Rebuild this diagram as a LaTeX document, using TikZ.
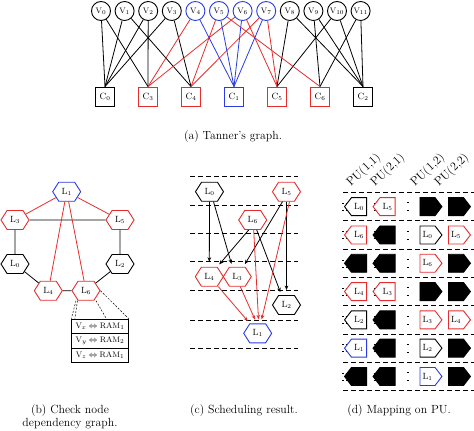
\documentclass[tikz,border=0pt]{standalone}
\usetikzlibrary{shapes.symbols,arrows.meta}
\definecolor{myred}{RGB}{230,45,45}
\definecolor{myblue}{RGB}{40,60,225}
\tikzset{
 vnode/.style={circle,draw,line width=0.9pt,minimum size=19pt,inner sep=0pt,fill=white,font=\fontsize{8}{9}\selectfont},
 cnode/.style={rectangle,draw,line width=0.9pt,minimum size=19pt,inner sep=0pt,fill=white,font=\fontsize{9}{10}\selectfont},
 hexa/.style={signal,signal to=west and east,signal pointer angle=115,draw,line width=0.9pt,minimum width=28pt,minimum height=19pt,inner sep=0pt,fill=white,font=\fontsize{9}{10}\selectfont},
 pentbase/.style={signal,signal pointer angle=105,draw,line width=0.9pt,minimum width=22pt,minimum height=18pt,inner sep=0pt,font=\fontsize{9}{10}\selectfont},
 pl/.style={pentbase,signal to=west,fill=white},
 pr/.style={pentbase,signal to=east,fill=white},
 pfl/.style={pentbase,signal to=west,fill=black},
 pfr/.style={pentbase,signal to=east,fill=black},
 tedge/.style={line width=0.8pt},
 sarrow/.style={line width=0.8pt,-{Stealth[length=4.5pt,width=3.6pt]}},
 rowline/.style={dash pattern=on 5pt off 3pt,line width=1pt},
 tinydash/.style={dash pattern=on 2pt off 1.5pt,line width=0.5pt},
 captext/.style={font=\fontsize{11.8}{13}\selectfont,align=center,inner sep=0pt},
 boxrow/.style={draw,line width=0.7pt,minimum width=56.6pt,minimum height=14.56pt,inner sep=0pt,fill=white,font=\fontsize{8.5}{9}\selectfont},
 pulab/.style={rotate=43,anchor=south west,inner sep=0pt,font=\fontsize{12}{13}\selectfont},
}
\begin{document}
\begin{tikzpicture}[x=1pt,y=-1pt]
\useasboundingbox (0,0) rectangle (474,431);

% ---------------- (a) Tanner graph ----------------
\foreach \i/\col in {0/black,1/black,2/black,3/black,4/myblue,5/myblue,6/myblue,7/myblue,8/black,9/black,10/black,11/black}{
  \node[vnode,draw=\col] (V\i) at ({101+23.6*\i},11) {$\mathrm{V}_{\i}$};
}
\node[cnode] (C0) at (105,96.5) {$\mathrm{C}_0$};
\node[cnode,draw=myred] (C3) at (148,96.5) {$\mathrm{C}_3$};
\node[cnode,draw=myred] (C4) at (191,96.5) {$\mathrm{C}_4$};
\node[cnode,draw=myblue] (C1) at (234,96.5) {$\mathrm{C}_1$};
\node[cnode,draw=myred] (C5) at (277,96.5) {$\mathrm{C}_5$};
\node[cnode,draw=myred] (C6) at (320,96.5) {$\mathrm{C}_6$};
\node[cnode] (C2) at (363,96.5) {$\mathrm{C}_2$};

\foreach \v/\c in {0/0,1/0,2/0,3/0,0/3,2/3,1/4,3/4,8/5,10/5,9/6,11/6,8/2,9/2,10/2,11/2}{
  \draw[tedge] (V\v) -- (C\c.north);
}
\foreach \v/\c in {4/3,6/3,5/4,7/4,6/5,7/5,5/6}{
  \draw[tedge,myred] (V\v) -- (C\c.north);
}
\foreach \v in {4,5,6,7}{
  \draw[tedge,myblue] (V\v) -- (C1.north);
}
\node[captext] (capa) at (233,137) {(a) Tanner's graph.};

% ---------------- (b) dependency graph ----------------
\node[hexa,draw=myblue] (bL1) at (66.7,191.7) {$\mathrm{L}_1$};
\node[hexa,draw=myred] (bL3) at (15,220) {$\mathrm{L}_3$};
\node[hexa,draw=myred] (bL5) at (120,220) {$\mathrm{L}_5$};
\node[hexa] (bL0) at (15,264) {$\mathrm{L}_0$};
\node[hexa] (bL2) at (120,264) {$\mathrm{L}_2$};
\node[hexa,draw=myred] (bL4) at (48.3,290.7) {$\mathrm{L}_4$};
\node[hexa,draw=myred] (bL6) at (86,290.7) {$\mathrm{L}_6$};
\draw[tedge] (bL3) -- (bL5);
\draw[tedge] (bL3) -- (bL0);
\draw[tedge] (bL5) -- (bL2);
\draw[tedge] (bL0) -- (bL4);
\draw[tedge] (bL4) -- (bL6);
\draw[tedge] (bL6) -- (bL2);
\draw[tedge,myred] (bL1) -- (bL3);
\draw[tedge,myred] (bL1) -- (bL5);
\draw[tedge,myred] (bL1) -- (bL4);
\draw[tedge,myred] (bL1) -- (bL6);

\node[boxrow] (bx) at (100,326.3) {$\mathrm{V}_x\Leftrightarrow\mathrm{RAM}_1$};
\node[boxrow] (by) at (100,340.9) {$\mathrm{V}_y\Leftrightarrow\mathrm{RAM}_2$};
\node[boxrow] (bz) at (100,355.4) {$\mathrm{V}_z\Leftrightarrow\mathrm{RAM}_1$};
\draw[tinydash] ([xshift=-10pt]bL6.south) -- (bx.north west);
\draw[tinydash] ([xshift=-8.5pt]bL6.south) -- ([xshift=3.5pt]bx.north west);
\draw[tinydash] ([xshift=10pt]bL6.south) -- ([xshift=35pt]bx.north west);
\draw[tinydash] (bL6.east) -- (bx.north east);

\node[captext] (capb) at (70,417) {(b) Check node\\dependency graph.};

% ---------------- (c) scheduling ----------------
\foreach \y in {176.7,205,233.3,261.7,290,320,348.3}{
  \draw[rowline] (190,\y) -- (297.5,\y);
}
\node[hexa] (cL0) at (209.5,191.7) {$\mathrm{L}_0$};
\node[hexa,draw=myred] (cL5) at (286.5,191.7) {$\mathrm{L}_5$};
\node[hexa,draw=myred] (cL6) at (252.7,220) {$\mathrm{L}_6$};
\node[hexa,draw=myred] (cL4) at (209.3,276.7) {$\mathrm{L}_4$};
\node[hexa,draw=myred] (cL3) at (237.3,276.7) {$\mathrm{L}_3$};
\node[hexa] (cL2) at (286.5,305) {$\mathrm{L}_2$};
\node[hexa,draw=myblue] (cL1) at (257.7,333.3) {$\mathrm{L}_1$};

\draw[sarrow,shorten >=5pt] (cL0.south) -- (cL4.north);
\draw[sarrow,shorten >=3pt] ([xshift=4pt]cL0.south) -- ([xshift=-5pt]cL3.north);
\draw[sarrow,shorten >=3pt] ([xshift=-4pt]cL5.south) -- ([xshift=6pt]cL3.north);
\draw[sarrow,shorten >=3pt] ([xshift=-4pt]cL6.south) -- ([xshift=8pt]cL4.north);
\draw[sarrow,shorten >=5pt] (cL5.south) -- (cL2.north);
\draw[sarrow,shorten >=3pt] ([xshift=4pt]cL6.south) -- ([xshift=-5pt]cL2.north);
\draw[sarrow,myred,shorten >=4pt] ([xshift=3pt]cL5.south) -- ([xshift=3pt]cL1.north);
\draw[sarrow,myred,shorten >=4pt] ([xshift=1pt]cL6.south) -- ([xshift=1pt]cL1.north);
\draw[sarrow,myred,shorten >=4pt] ([xshift=3pt]cL3.south) -- ([xshift=-1pt]cL1.north);
\draw[sarrow,myred,shorten >=3pt] ([xshift=9pt]cL4.south) -- ([xshift=-8pt]cL1.north);

\node[captext] (capc) at (244,411) {(c) Scheduling result.};

% ---------------- (d) mapping on PU ----------------
\node[pulab] (pu11) at (353,189) {PU(1,1)};
\node[pulab] (pu21) at (377,189) {PU(2,1)};
\node[pulab] (pu12) at (417,189) {PU(1,2)};
\node[pulab] (pu22) at (441,189) {PU(2,2)};

\foreach \k in {0,...,7}{
  \draw[rowline] (343,{192.5+28.3*\k}) -- (474,{192.5+28.3*\k});
}
\foreach \k in {0,...,6}{
  \pgfmathsetmacro{\yc}{206.65+28.3*\k}
  \draw[tinydash] (342,\yc-3.5) -- (349,\yc-3.5);
  \draw[tinydash] (342,\yc+3.5) -- (349,\yc+3.5);
  \draw[tinydash] (373.5,\yc-3.5) -- (377.5,\yc-3.5);
  \draw[tinydash] (373.5,\yc+3.5) -- (377.5,\yc+3.5);
  \draw[tinydash] (406.5,\yc-4) -- (408.5,\yc-4);
  \draw[tinydash] (406.5,\yc+4) -- (408.5,\yc+4);
}
% row 1
\node[pl] (d11) at (359,206.65) {$\mathrm{L}_0$};
\node[pl,draw=myred] (d12) at (387.5,206.65) {$\mathrm{L}_5$};
\node[pfr] (d13) at (427.5,206.65) {};
\node[pfr] (d14) at (456,206.65) {};
% row 2
\node[pl,draw=myred] (d21) at (359,234.95) {$\mathrm{L}_6$};
\node[pfl] (d22) at (387.5,234.95) {};
\node[pr] (d23) at (427.5,234.95) {$\mathrm{L}_0$};
\node[pr,draw=myred] (d24) at (456,234.95) {$\mathrm{L}_5$};
% row 3
\node[pfl] (d31) at (359,263.25) {};
\node[pfl] (d32) at (387.5,263.25) {};
\node[pr,draw=myred] (d33) at (427.5,263.25) {$\mathrm{L}_6$};
\node[pfr] (d34) at (456,263.25) {};
% row 4
\node[pl,draw=myred] (d41) at (359,291.55) {$\mathrm{L}_4$};
\node[pl,draw=myred] (d42) at (387.5,291.55) {$\mathrm{L}_3$};
\node[pfr] (d43) at (427.5,291.55) {};
\node[pfr] (d44) at (456,291.55) {};
% row 5
\node[pl] (d51) at (359,319.85) {$\mathrm{L}_2$};
\node[pfl] (d52) at (387.5,319.85) {};
\node[pr,draw=myred] (d53) at (427.5,319.85) {$\mathrm{L}_3$};
\node[pr,draw=myred] (d54) at (456,319.85) {$\mathrm{L}_4$};
% row 6
\node[pl,draw=myblue] (d61) at (359,348.15) {$\mathrm{L}_1$};
\node[pfl] (d62) at (387.5,348.15) {};
\node[pr] (d63) at (427.5,348.15) {$\mathrm{L}_2$};
\node[pfr] (d64) at (456,348.15) {};
% row 7
\node[pfl] (d71) at (359,376.45) {};
\node[pfl] (d72) at (387.5,376.45) {};
\node[pr,draw=myblue] (d73) at (427.5,376.45) {$\mathrm{L}_1$};
\node[pfr] (d74) at (456,376.45) {};

\node[captext] (capd) at (399,411) {(d) Mapping on PU.};
\end{tikzpicture}
\end{document}
